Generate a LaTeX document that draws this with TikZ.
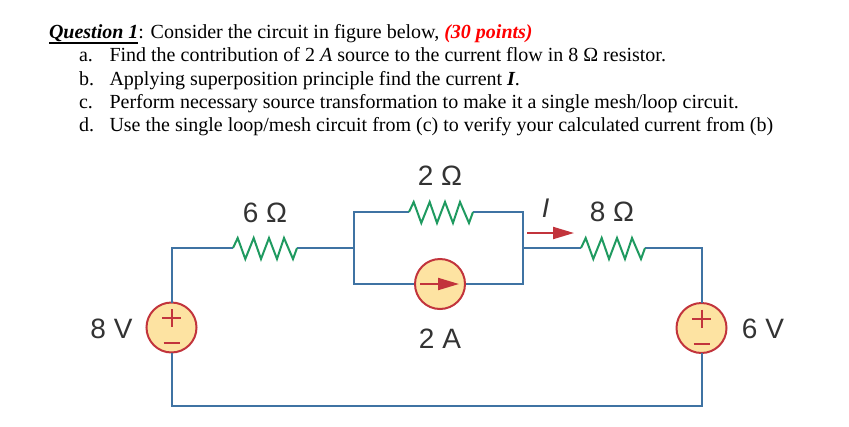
\documentclass[tikz,border=0pt]{standalone}
\usepackage{fontspec}
\setmainfont{Liberation Serif}
\setsansfont{Liberation Sans}
\usetikzlibrary{arrows.meta}
\definecolor{wirec}{HTML}{3F73A3}
\definecolor{resc}{HTML}{1F9A60}
\definecolor{redc}{HTML}{C2343C}
\definecolor{srcfill}{HTML}{FDE3A2}
\definecolor{labc}{HTML}{333333}
\tikzset{
  every node/.style={inner sep=0pt,outer sep=0pt},
  txt/.style={anchor=base west,font=\fontsize{20}{22}\selectfont,text=black},
  lab/.style={anchor=base,font=\sffamily\fontsize{28}{30}\selectfont,text=labc},
  wire/.style={draw=wirec,line width=2pt,line join=miter},
  zigz/.style={draw=resc,line width=2pt,line join=miter},
  resbox/.style={minimum width=64pt,minimum height=21pt},
  src/.style={circle,draw=redc,fill=srcfill,line width=2pt,minimum size=50pt},
  redmark/.style={draw=redc,line width=2pt},
  redarrow/.style={draw=redc,line width=2pt,-{Triangle[length=21pt,width=12pt]}},
}
\newcommand{\zigres}[1]{\draw[zigz] (#1.west) -- ++(4.7,-10) -- ++(7.6,21) -- ++(8.4,-21) -- ++(7.3,21) -- ++(8,-21) -- ++(8,21) -- ++(7,-21) -- ++(9,21) -- (#1.east);}
\begin{document}
\begin{tikzpicture}[x=1pt,y=-1pt]
\useasboundingbox[fill=white] (0,0) rectangle (849,426);
% text
\node[txt] (title) at (49,38) {\textbf{\textit{\vtop{\hbox{Question 1}\kern1pt\hrule height 1.5pt}}}: Consider the circuit in figure below, \textcolor{red}{\textbf{\textit{(30 points)}}}};
\node[txt] (la) at (79,61) {a.};
\node[txt] (ta) at (109.5,61) {Find the contribution of 2 \textit{A} source to the current flow in 8 Ω resistor.};
\node[txt] (lb) at (79,85) {b.};
\node[txt] (tb) at (109.5,85) {Applying superposition principle find the current \textit{\textbf{I}}.};
\node[txt] (lc) at (79,108) {c.};
\node[txt] (tc) at (109.5,108) {Perform necessary source transformation to make it a single mesh/loop circuit.};
\node[txt] (ld) at (79,131) {d.};
\node[txt] (td) at (109.5,131) {Use the single loop/mesh circuit from (c) to verify your calculated current from (b)};
% components
\node[resbox] (r6) at (265,248) {};
\node[resbox] (r2) at (441,212) {};
\node[resbox] (r8) at (613,248) {};
\coordinate (jl) at (354,248);
\coordinate (jr) at (522.5,248);
\coordinate (tl) at (354,212);
\coordinate (tr) at (522.5,212);
\coordinate (bl) at (354,284);
\coordinate (br) at (522.5,284);
% wires
\draw[wire] (r6.east) -- (jl);
\draw[wire] (r2.west) -- (tl) -- (bl) -- (br) -- (tr) -- (r2.east);
\draw[wire] (jr) -- (r8.west);
\node[src] (v8) at (171.5,327.5) {};
\node[src] (v6) at (701.5,328) {};
\node[src] (i2) at (440,284) {};
\draw[wire] (v8.north) |- (r6.west);
\draw[wire] (v6.north) |- (r8.east);
\draw[wire] (v8.south) |- (171.5,406) -| (v6.south);
\zigres{r6}
\zigres{r2}
\zigres{r8}
% source marks
\draw[redmark] ([xshift=-9.5pt,yshift=9.5pt]v8.center) -- ([xshift=9.5pt,yshift=9.5pt]v8.center);
\draw[redmark] ([yshift=18.5pt]v8.center) -- ([yshift=0.5pt]v8.center);
\draw[redmark] ([xshift=-8pt,yshift=-15.5pt]v8.center) -- ([xshift=8pt,yshift=-15.5pt]v8.center);
\draw[redmark] ([xshift=-9.5pt,yshift=9.5pt]v6.center) -- ([xshift=9.5pt,yshift=9.5pt]v6.center);
\draw[redmark] ([yshift=18.5pt]v6.center) -- ([yshift=0.5pt]v6.center);
\draw[redmark] ([xshift=-8pt,yshift=-15.5pt]v6.center) -- ([xshift=8pt,yshift=-15.5pt]v6.center);
\draw[redarrow] ([xshift=-20pt]i2.center) -- ([xshift=19pt]i2.center);
\coordinate (ia) at (527,233);
\coordinate (ib) at (574,233);
\draw[redarrow] (ia) -- (ib);
% labels
\node[lab] (l2o) at (440,185) {2 Ω};
\node[lab] (l6o) at (265,222) {6 Ω};
\node[lab] (l8o) at (612,221) {8 Ω};
\node[lab] (l2a) at (440,348) {2 A};
\node[lab] (l8v) at (111.5,338) {8 V};
\node[lab] (l6v) at (763,338) {6 V};
\node[lab,font=\sffamily\itshape\fontsize{27}{30}\selectfont] (li) at (545.5,217) {I};
\end{tikzpicture}
\end{document}
